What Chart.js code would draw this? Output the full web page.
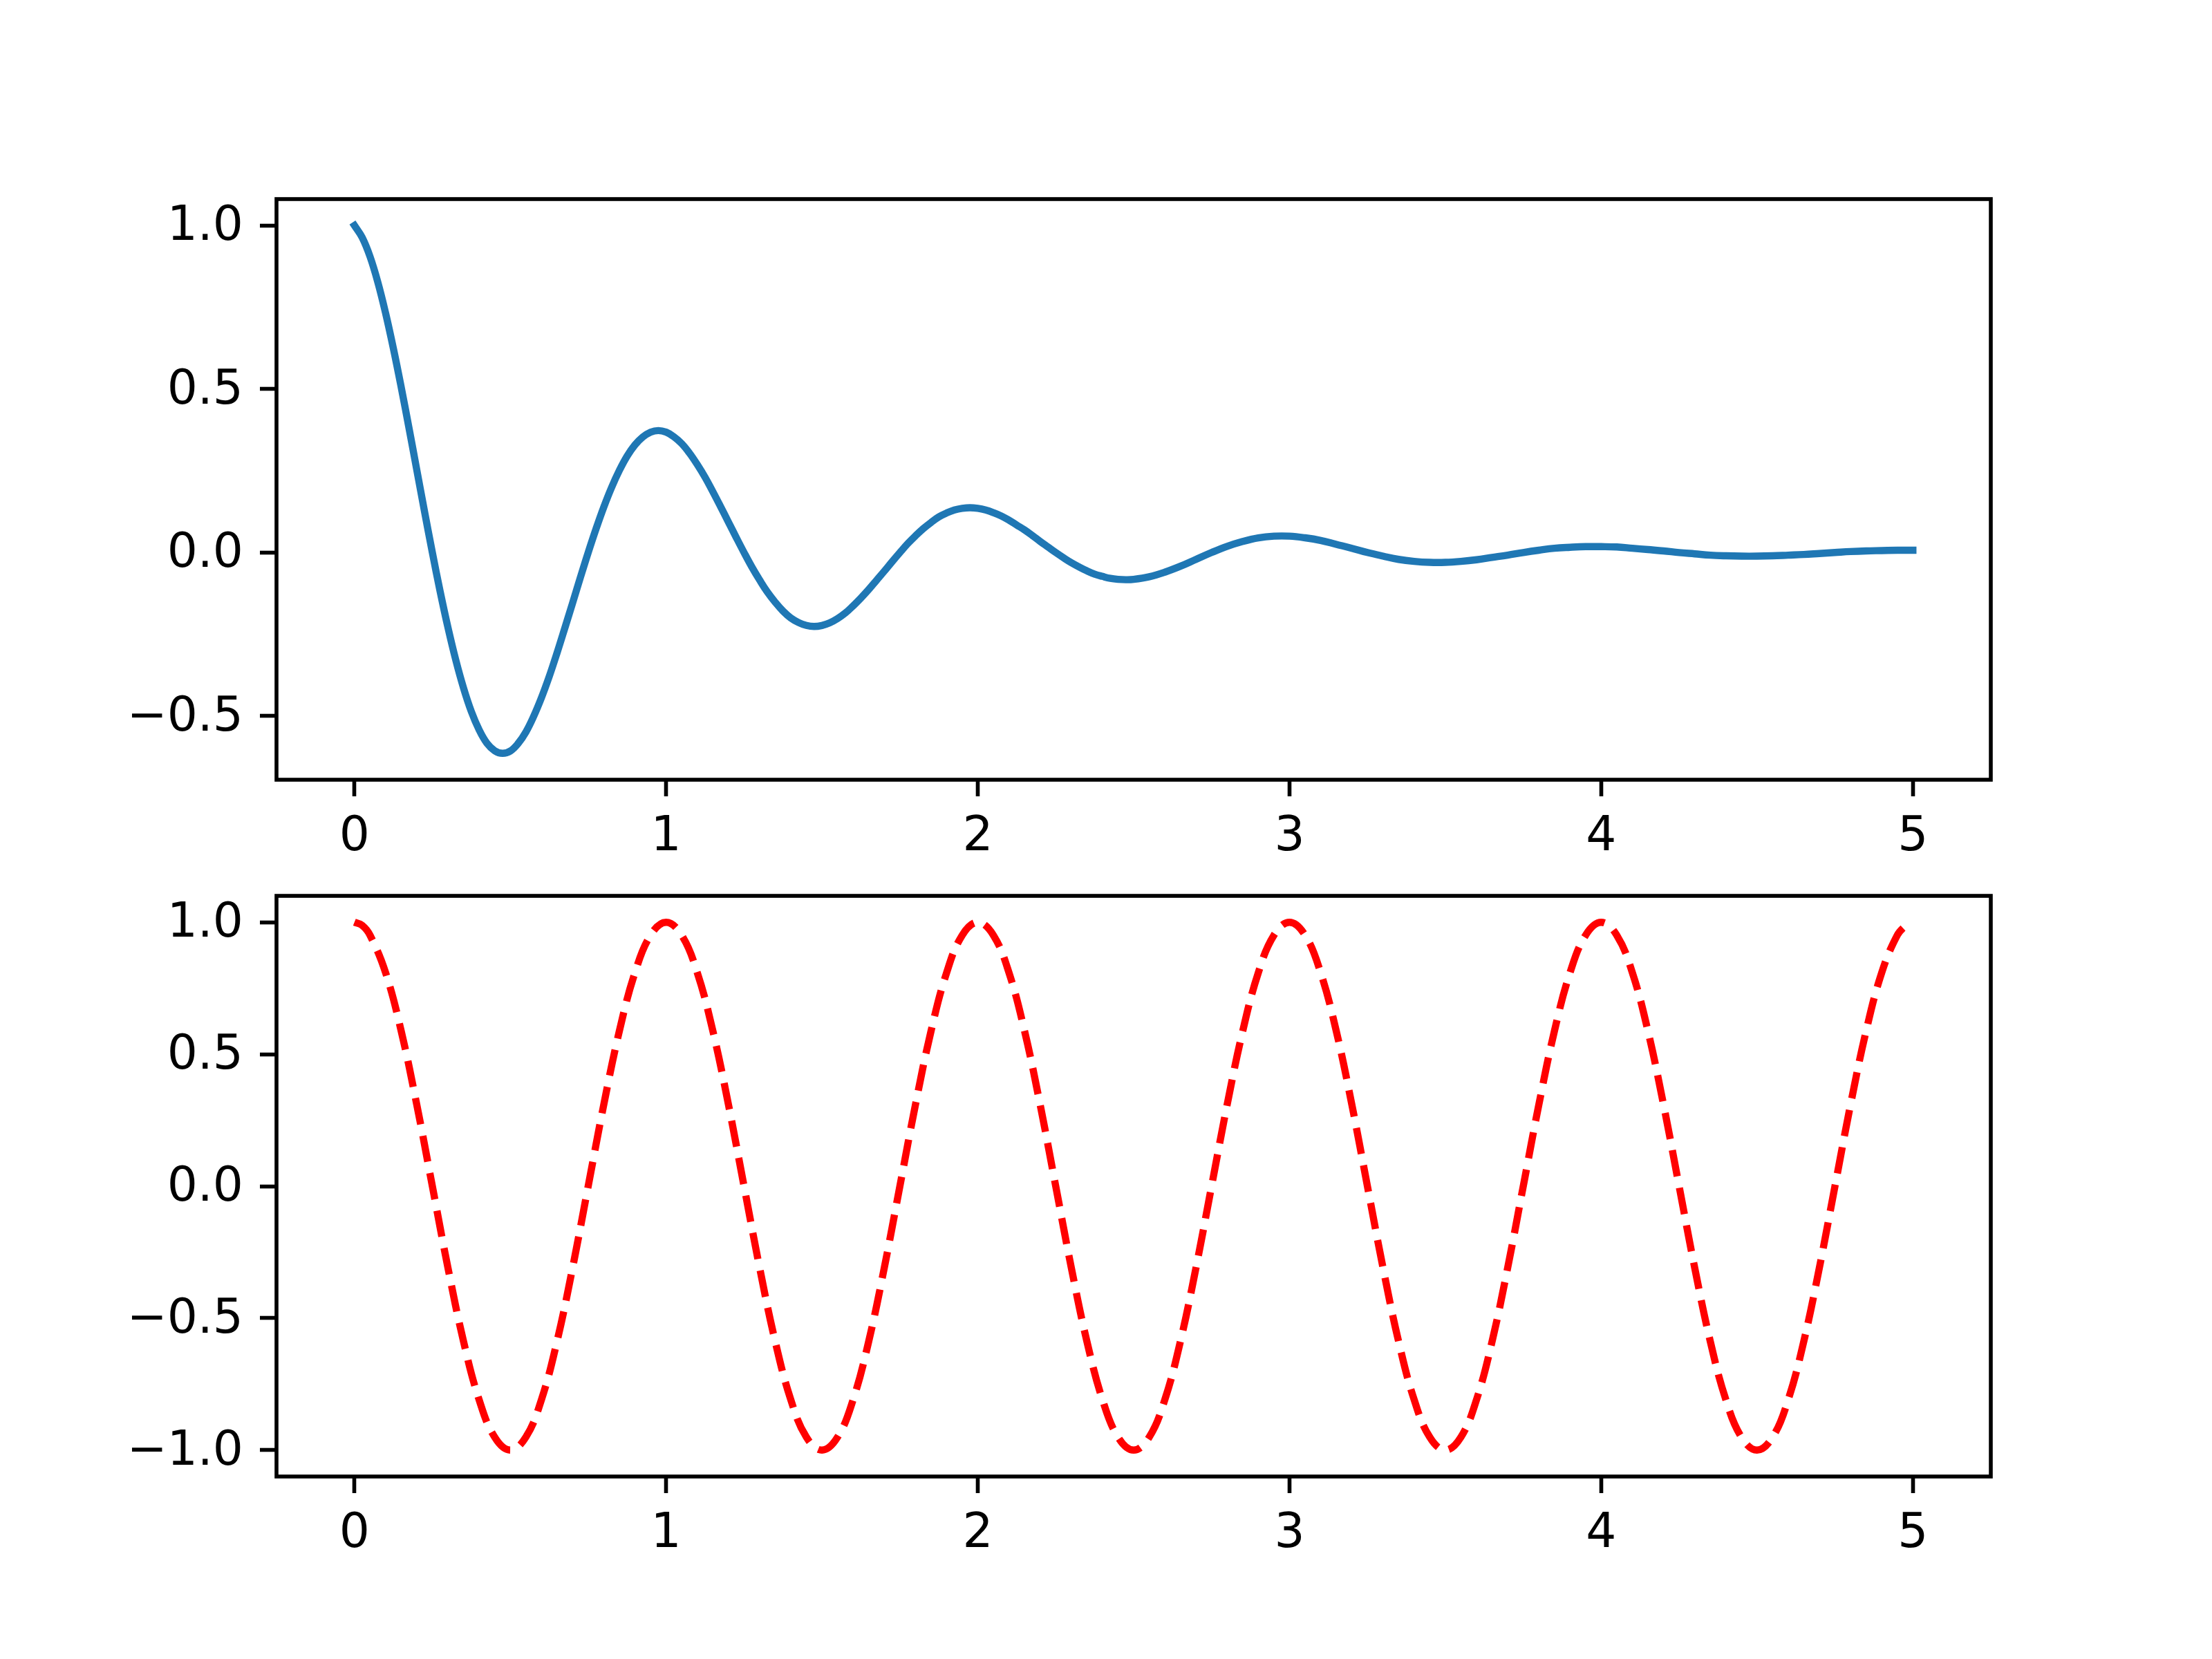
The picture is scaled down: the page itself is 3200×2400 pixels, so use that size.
<!DOCTYPE html>
<html>
<head>
<meta charset="utf-8">
<script src="https://cdn.jsdelivr.net/npm/chart.js@4.4.0/dist/chart.umd.min.js"></script>
<style>
  html, body { margin: 0; padding: 0; background: #ffffff; }
  #wrap { position: relative; width: 3200px; height: 2400px; background: #ffffff; }
  canvas { position: absolute; left: 0; top: 0; }
</style>
</head>
<body>
<div id="wrap">
  <canvas id="c1" width="3200" height="2400"></canvas>
  <canvas id="c2" width="3200" height="2400"></canvas>
</div>
<script>
// ---- data ----
// top panel: damped oscillation
const tTop = [
  0.000,0.025,0.050,0.075,0.100,0.125,0.150,0.175,0.200,0.225,
  0.250,0.275,0.300,0.325,0.350,0.375,0.400,0.425,0.450,0.475,
  0.500,0.525,0.550,0.575,0.600,0.625,0.650,0.675,0.700,0.725,
  0.750,0.775,0.800,0.825,0.850,0.875,0.900,0.925,0.950,0.975,
  1.000,1.025,1.050,1.075,1.100,1.125,1.150,1.175,1.200,1.225,
  1.250,1.275,1.300,1.325,1.350,1.375,1.400,1.425,1.450,1.475,
  1.500,1.525,1.550,1.575,1.600,1.625,1.650,1.675,1.700,1.725,
  1.750,1.775,1.800,1.825,1.850,1.875,1.900,1.925,1.950,1.975,
  2.000,2.025,2.050,2.075,2.100,2.125,2.150,2.175,2.200,2.225,
  2.250,2.275,2.300,2.325,2.350,2.375,2.400,2.425,2.450,2.475,
  2.500,
  2.55,2.60,2.65,2.70,2.75,2.80,2.85,2.90,2.95,
  3.00,3.05,3.10,3.15,3.20,3.25,3.30,3.35,3.40,3.45,
  3.50,3.55,3.60,3.65,3.70,3.75,3.80,3.85,3.90,3.95,
  4.00,4.05,4.10,4.15,4.20,4.25,4.30,4.35,4.40,4.45,
  4.50,4.55,4.60,4.65,4.70,4.75,4.80,4.85,4.90,4.95,
  5.00
];
const dampedValues = [
  1.000,0.963,0.905,0.827,0.732,0.624,0.506,0.381,0.253,0.125,
  0.000,-0.119,-0.229,-0.328,-0.414,-0.486,-0.542,-0.583,-0.606,-0.614,
  -0.607,-0.584,-0.549,-0.501,-0.444,-0.379,-0.307,-0.231,-0.154,-0.076,
  0.000,0.072,0.139,0.199,0.251,0.295,0.329,0.353,0.368,0.373,
  0.368,0.354,0.333,0.304,0.269,0.230,0.186,0.140,0.093,0.046,
  0.000,-0.044,-0.084,-0.121,-0.152,-0.179,-0.200,-0.214,-0.223,-0.226,
  -0.223,-0.215,-0.202,-0.185,-0.163,-0.139,-0.113,-0.085,-0.057,-0.028,
  0.000,0.027,0.051,0.073,0.092,0.109,0.121,0.130,0.135,0.137,
  0.135,0.130,0.122,0.112,0.099,0.084,0.069,0.052,0.034,0.017,
  0.000,-0.016,-0.031,-0.044,-0.056,-0.066,-0.073,-0.079,-0.082,-0.083,
  -0.082,
  -0.074,-0.060,-0.042,-0.021,0.000,0.019,0.034,0.045,0.050,
  0.050,0.045,0.037,0.025,0.013,0.000,-0.011,-0.021,-0.027,-0.030,
  -0.030,-0.027,-0.022,-0.015,-0.008,0.000,0.007,0.013,0.016,0.018,
  0.018,0.017,0.013,0.009,0.005,0.000,-0.004,-0.008,-0.010,-0.011,
  -0.011,-0.010,-0.008,-0.006,-0.003,0.000,0.003,0.005,0.006,0.007,
  0.007
];
// bottom panel: undamped cosine
const tBottom = [
  0.00,0.025,0.05,0.10,0.15,0.20,0.25,0.30,0.35,0.40,0.45,
  0.50,0.55,0.60,0.65,0.70,0.75,0.80,0.85,0.90,0.95,
  1.00,1.05,1.10,1.15,1.20,1.25,1.30,1.35,1.40,1.45,
  1.50,1.55,1.60,1.65,1.70,1.75,1.80,1.85,1.90,1.95,
  2.00,2.05,2.10,2.15,2.20,2.25,2.30,2.35,2.40,2.45,
  2.50,2.55,2.60,2.65,2.70,2.75,2.80,2.85,2.90,2.95,
  3.00,3.05,3.10,3.15,3.20,3.25,3.30,3.35,3.40,3.45,
  3.50,3.55,3.60,3.65,3.70,3.75,3.80,3.85,3.90,3.95,
  4.00,4.05,4.10,4.15,4.20,4.25,4.30,4.35,4.40,4.45,
  4.50,4.55,4.60,4.65,4.70,4.75,4.80,4.85,4.90,4.95,
  4.98
];
const cosineValues = [
  1.000,0.988,0.951,0.809,0.588,0.309,0.000,-0.309,-0.588,-0.809,-0.951,
  -1.000,-0.951,-0.809,-0.588,-0.309,0.000,0.309,0.588,0.809,0.951,
  1.000,0.951,0.809,0.588,0.309,0.000,-0.309,-0.588,-0.809,-0.951,
  -1.000,-0.951,-0.809,-0.588,-0.309,0.000,0.309,0.588,0.809,0.951,
  1.000,0.951,0.809,0.588,0.309,0.000,-0.309,-0.588,-0.809,-0.951,
  -1.000,-0.951,-0.809,-0.588,-0.309,0.000,0.309,0.588,0.809,0.951,
  1.000,0.951,0.809,0.588,0.309,0.000,-0.309,-0.588,-0.809,-0.951,
  -1.000,-0.951,-0.809,-0.588,-0.309,0.000,0.309,0.588,0.809,0.951,
  1.000,0.951,0.809,0.588,0.309,0.000,-0.309,-0.588,-0.809,-0.951,
  -1.000,-0.951,-0.809,-0.588,-0.309,0.000,0.309,0.588,0.809,0.951,
  0.992
];
const xTicks = [0, 1, 2, 3, 4, 5];
const xTickLabels = ['0', '1', '2', '3', '4', '5'];
const yTicksTop = [-0.5, 0.0, 0.5, 1.0];
const yTickLabelsTop = ['\u22120.5', '0.0', '0.5', '1.0'];
const yTicksBottom = [-1.0, -0.5, 0.0, 0.5, 1.0];
const yTickLabelsBottom = ['\u22121.0', '\u22120.5', '0.0', '0.5', '1.0'];

// ---- styles (matplotlib defaults at 500 dpi) ----
const FONT = { family: "'DejaVu Sans', sans-serif", size: 69.4 };
const TICK_LEN = 24;
const TICK_W = 5.6;
const LINE_W = 10.4;

const spinesPlugin = {
  id: 'spines',
  afterDraw(chart) {
    const a = chart.chartArea;
    const ctx = chart.ctx;
    ctx.save();
    ctx.strokeStyle = '#000000';
    ctx.lineWidth = TICK_W;
    ctx.lineJoin = 'miter';
    ctx.strokeRect(a.left, a.top, a.right - a.left, a.bottom - a.top);
    ctx.restore();
  }
};

function makeChart(id, xs, ys, color, dash, cap, yMin, yMax, yTicks, yLabels, padTop, padBottom) {
  const pts = xs.map((t, i) => ({ x: t, y: ys[i] }));
  return new Chart(document.getElementById(id), {
    type: 'line',
    data: {
      datasets: [{
        data: pts,
        borderColor: color,
        borderWidth: LINE_W,
        borderDash: dash,
        borderCapStyle: cap,
        borderJoinStyle: 'round',
        pointRadius: 0,
        fill: false,
        tension: 0.4
      }]
    },
    plugins: [spinesPlugin],
    options: {
      responsive: false,
      animation: false,
      devicePixelRatio: 1,
      layout: { padding: { left: 100, right: 320, top: padTop, bottom: padBottom } },
      plugins: { legend: { display: false }, tooltip: { enabled: false } },
      scales: {
        x: {
          type: 'linear',
          min: -0.25,
          max: 5.25,
          afterBuildTicks: s => { s.ticks = xTicks.map(v => ({ value: v })); },
          afterFit: s => { s.height = 130; },
          grid: { display: true, drawOnChartArea: false, drawTicks: true, tickLength: TICK_LEN, tickWidth: TICK_W, tickColor: '#000000' },
          border: { display: false },
          ticks: {
            color: '#000000', font: FONT, padding: 18, maxRotation: 0, autoSkip: false,
            callback: v => { const i = xTicks.indexOf(v); return i >= 0 ? xTickLabels[i] : ''; }
          }
        },
        y: {
          type: 'linear',
          min: yMin,
          max: yMax,
          afterBuildTicks: s => { s.ticks = yTicks.map(v => ({ value: v })); },
          afterFit: s => { s.width = 300; },
          grid: { display: true, drawOnChartArea: false, drawTicks: true, tickLength: TICK_LEN, tickWidth: TICK_W, tickColor: '#000000' },
          border: { display: false },
          ticks: {
            color: '#000000', font: FONT, padding: 24, autoSkip: false, labelOffset: 3,
            callback: v => { const i = yTicks.findIndex(t => Math.abs(t - v) < 1e-9); return i >= 0 ? yLabels[i] : ''; }
          }
        }
      }
    }
  });
}

makeChart('c1', tTop, dampedValues, '#1f77b4', [], 'square', -0.6947, 1.0807, yTicksTop, yTickLabelsTop, 288, 2400 - 1128 - 130);
makeChart('c2', tBottom, cosineValues, '#ff0000', [38.5, 16.7], 'butt', -1.1, 1.1, yTicksBottom, yTickLabelsBottom, 1296, 2400 - 2136 - 130);
</script>
</body>
</html>
